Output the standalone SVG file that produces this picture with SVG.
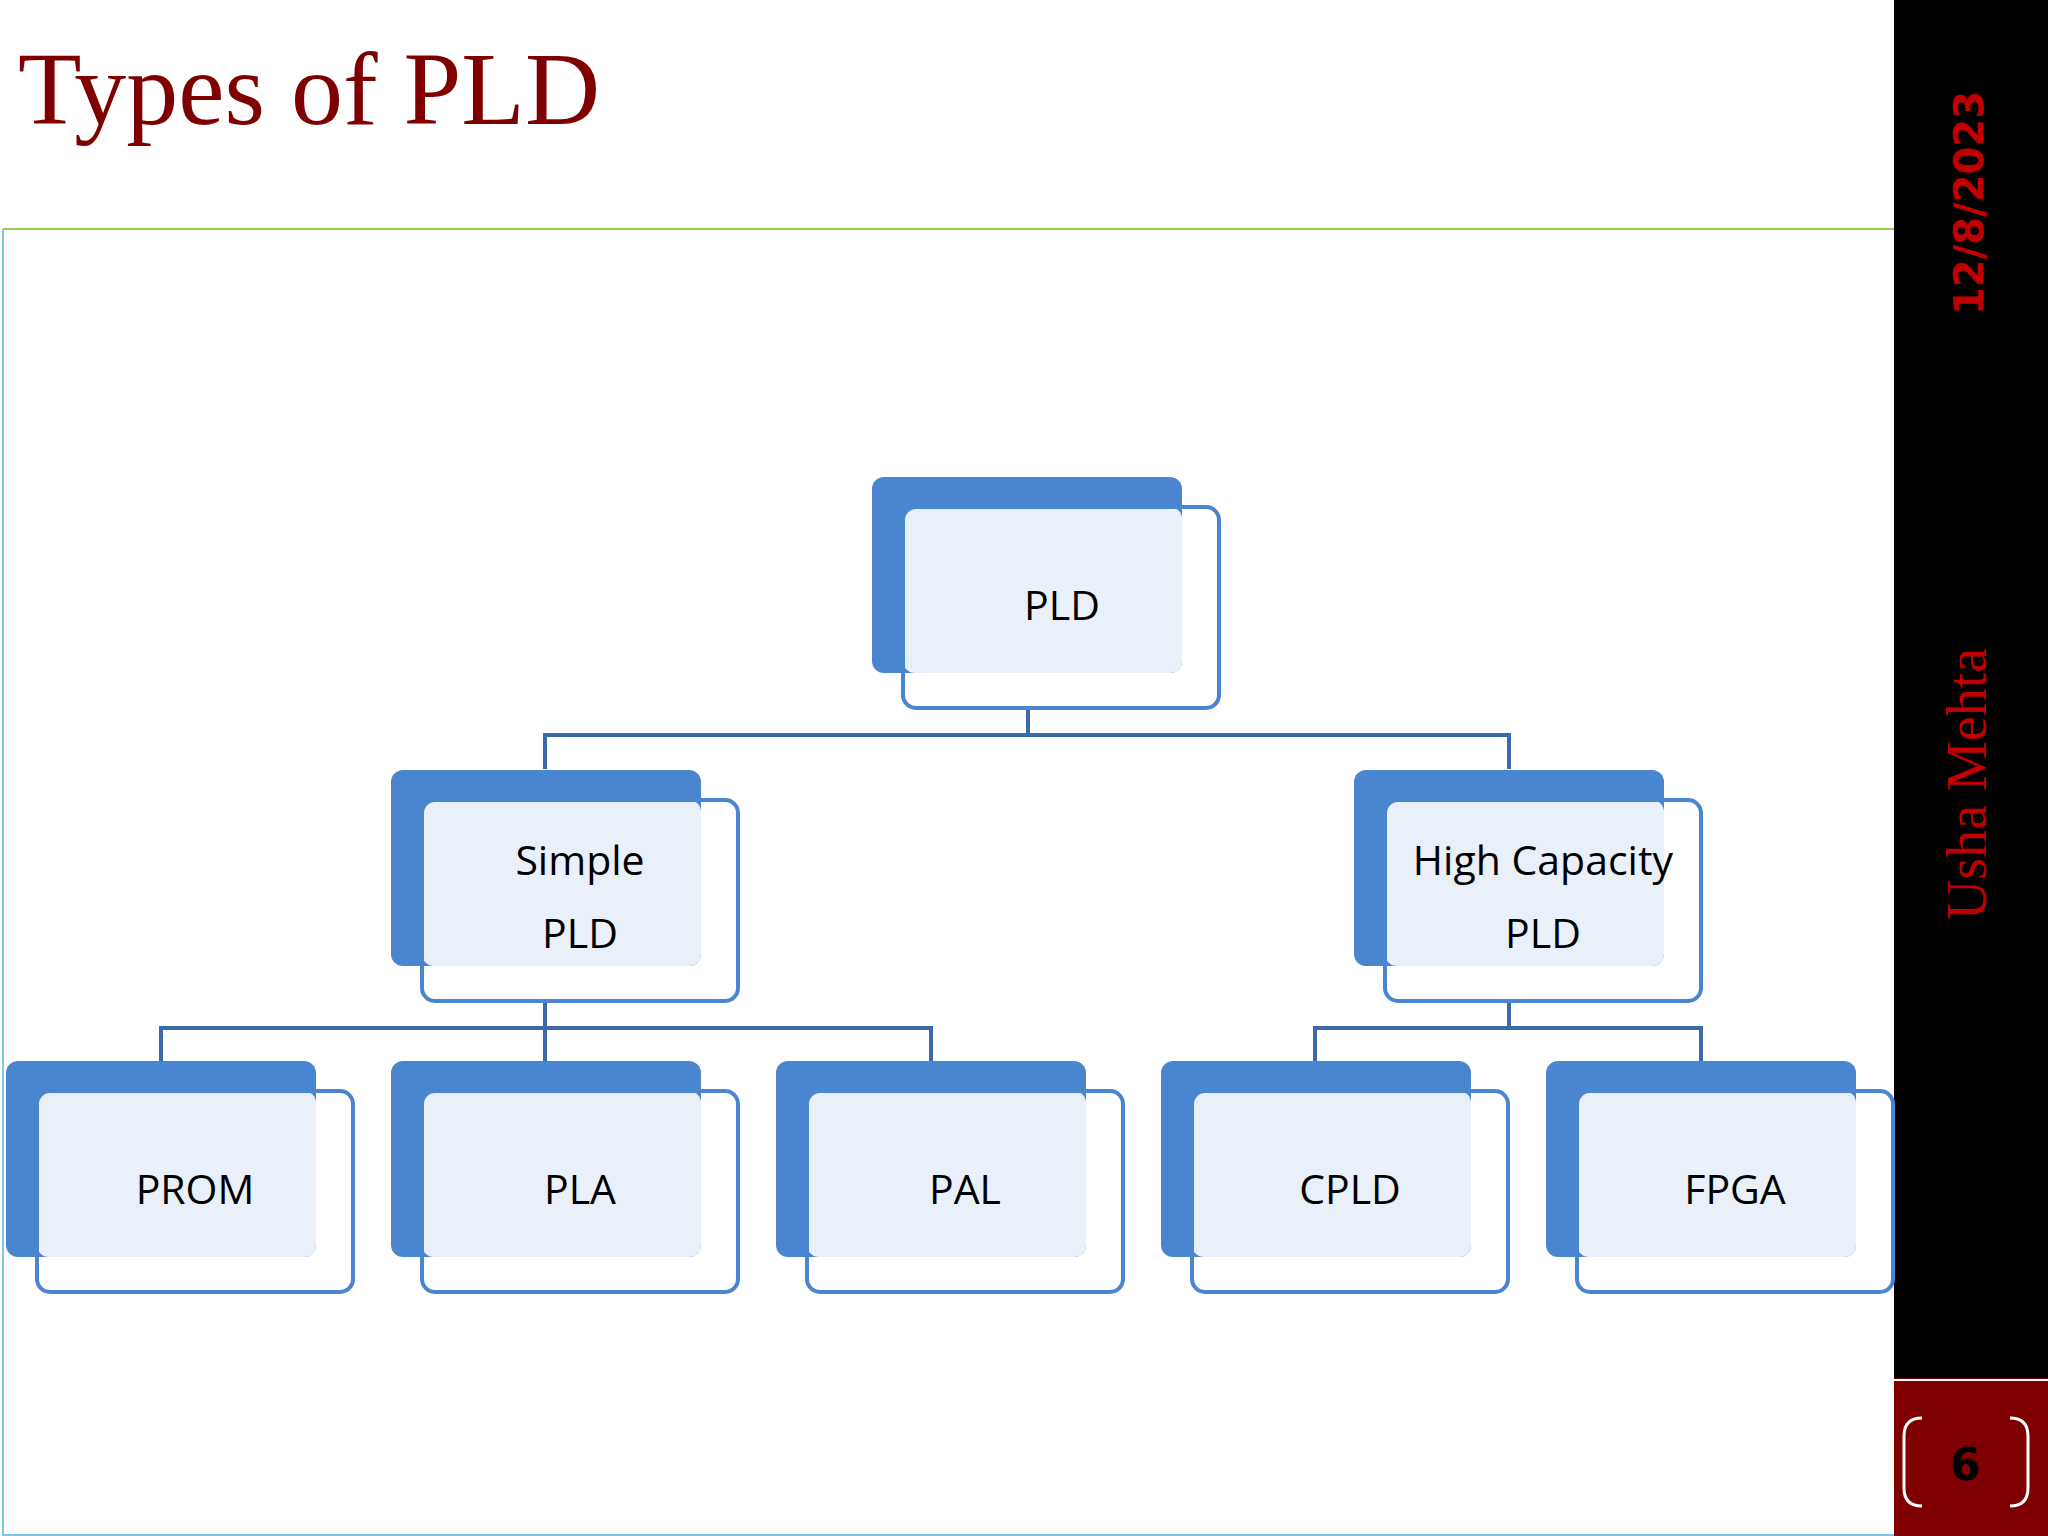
<svg xmlns="http://www.w3.org/2000/svg" xmlns:xlink="http://www.w3.org/1999/xlink" width="2048" height="1536" viewBox="0 0 2048 1536">
<style>
.lbl{font-family:"Open Sans","Noto Sans",sans-serif;font-size:41px;fill:#000;text-anchor:middle}
.con{stroke:#3A6AAA;stroke-width:4;fill:none}
</style>
<defs>
<g id="card">
<rect x="0" y="0" width="310" height="196" rx="12" fill="#4A86D0"/>
<rect x="31" y="30" width="279" height="166" rx="12" fill="#EAF0FA"/>
<rect x="31" y="30" width="316" height="201" rx="13" fill="none" stroke="#4A86D0" stroke-width="4"/>
</g>
</defs>
<rect width="2048" height="1536" fill="#fff"/>
<text x="18" y="124" font-family="Liberation Serif,serif" font-size="104" fill="#7F0000">Types of PLD</text>
<line x1="3" y1="229" x2="1894" y2="229" stroke="#92D050" stroke-width="2"/>
<line x1="3" y1="229" x2="3" y2="1536" stroke="#7FC7E8" stroke-width="2"/>
<line x1="3" y1="1535" x2="1894" y2="1535" stroke="#7FC7E8" stroke-width="2"/>
<rect x="1894" y="0" width="154" height="1378" fill="#000"/>
<rect x="1894" y="1378" width="154" height="158" fill="#7F0000"/>
<line x1="1894" y1="1380" x2="2048" y2="1380" stroke="#fff" stroke-width="2"/>
<path d="M1922 1418 Q1904 1418 1904 1436 L1904 1488 Q1904 1506 1922 1506" fill="none" stroke="#fff" stroke-width="3"/>
<path d="M2010 1418 Q2028 1418 2028 1436 L2028 1488 Q2028 1506 2010 1506" fill="none" stroke="#fff" stroke-width="3"/>
<text x="1965" y="1480" font-family="DejaVu Sans,sans-serif" font-weight="bold" font-size="44" fill="#000" text-anchor="middle">6</text>
<text transform="translate(1983,203) rotate(-90)" font-family="DejaVu Sans,sans-serif" font-weight="bold" font-size="40" fill="#C00000" text-anchor="middle">12/8/2023</text>
<text transform="translate(1986,784) rotate(-90)" font-family="Liberation Serif,serif" font-size="56" fill="#C00000" text-anchor="middle">Usha Mehta</text>
<g id="connectors">
<path class="con" d="M1028 708V735M545 769V735H1509V769"/>
<path class="con" d="M545 999V1028M161 1061V1028H931V1061M545 1028V1061"/>
<path class="con" d="M1509 999V1028M1315 1061V1028H1701V1061"/>
</g>
<g id="n-pld"><use xlink:href="#card" x="872" y="477"/><text class="lbl" x="1062" y="620">PLD</text></g>
<g id="n-simple"><use xlink:href="#card" x="391" y="770"/><text class="lbl" x="580" y="875">Simple</text><text class="lbl" x="580" y="948">PLD</text></g>
<g id="n-high"><use xlink:href="#card" x="1354" y="770"/><text class="lbl" x="1543" y="875">High Capacity</text><text class="lbl" x="1543" y="948">PLD</text></g>
<g id="n-prom"><use xlink:href="#card" x="6" y="1061"/><text class="lbl" x="195" y="1204">PROM</text></g>
<g id="n-pla"><use xlink:href="#card" x="391" y="1061"/><text class="lbl" x="580" y="1204">PLA</text></g>
<g id="n-pal"><use xlink:href="#card" x="776" y="1061"/><text class="lbl" x="965" y="1204">PAL</text></g>
<g id="n-cpld"><use xlink:href="#card" x="1161" y="1061"/><text class="lbl" x="1350" y="1204">CPLD</text></g>
<g id="n-fpga"><use xlink:href="#card" x="1546" y="1061"/><text class="lbl" x="1735" y="1204">FPGA</text></g>
</svg>
